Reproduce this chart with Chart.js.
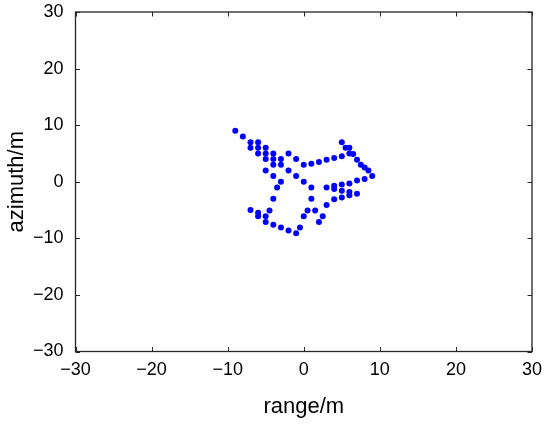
<!DOCTYPE html>
<html>
<head>
<meta charset="utf-8">
<script src="https://cdn.jsdelivr.net/npm/chart.js@4"></script>
<style>
html,body{margin:0;padding:0;background:#fff;}
#wrap{width:550px;height:426px;position:relative;}
</style>
</head>
<body>
<div id="wrap"><canvas id="c" width="550" height="426"></canvas></div>
<script>
const rangeM = [-9,-8,-7,-6,-7,-6,-5,-6,-5,-4,-2,-5,-4,-3,-1,-4,-3,0,1,2,3,4,5,5,5.5,6,6,6.5,7,7.5,8,8.5,9,-5,-2,-4,-1,-3,0,-3.5,1,3,4,4,5,5,6,7,8,6,6,7,5,4,-4,1,3,-7,-6,-6,-5,-4.5,-5,-4,-3,-2,-1,-0.5,0,0.5,1.5,2.5,2];
const azimuthM = [9,8,7,7,6,6,6,5,5,5,5,4,4,4,4,3,3,3,3.2,3.5,3.9,4.2,4.5,7,6,6,5,4.9,3.9,3,2.5,2,1,2,2,1,1,0,0,-1,-1,-1,-0.7,-1.3,-0.5,-1.6,-0.3,0.2,0.5,-1.8,-2.4,-2.1,-2.8,-3.1,-3,-3,-4.1,-5,-5.5,-6.1,-6.1,-5.1,-7.1,-7.6,-8.1,-8.6,-9.1,-8.1,-6.1,-5.1,-5.1,-6.1,-7.1];
const tickValues = [-30,-20,-10,0,10,20,30];
const xTitle = 'range/m';
const yTitle = 'azimuth/m';

const pts = rangeM.map((x,i)=>({x:x,y:azimuthM[i]}));
const axisColor = '#262626';
const fam = '"Liberation Sans", Arial, Helvetica, sans-serif';
const fmt = v => String(v).replace('-', '\u2212');

const boxPlugin = {
  id:'box',
  afterDraw(chart){
    const {ctx, chartArea:a, scales:{x,y}} = chart;
    ctx.save();
    ctx.strokeStyle = axisColor;
    ctx.lineWidth = 1.3;
    ctx.strokeRect(a.left, a.top, a.right-a.left, a.bottom-a.top);
    const L = 4.5;
    ctx.lineWidth = 1;
    ctx.beginPath();
    tickValues.forEach(v=>{
      const px = Math.round(x.getPixelForValue(v))+0.5;
      ctx.moveTo(px,a.bottom); ctx.lineTo(px,a.bottom-L);
      ctx.moveTo(px,a.top); ctx.lineTo(px,a.top+L);
      const py = Math.round(y.getPixelForValue(v))+0.5;
      ctx.moveTo(a.left,py); ctx.lineTo(a.left+L,py);
      ctx.moveTo(a.right,py); ctx.lineTo(a.right-L,py);
    });
    ctx.stroke();
    ctx.restore();
  }
};

new Chart(document.getElementById('c'), {
  type:'scatter',
  data:{datasets:[{data:pts, backgroundColor:'#0000FF', borderColor:'#0000FF', borderWidth:0, pointRadius:3, pointHoverRadius:3}]},
  options:{
    responsive:false,
    animation:false,
    events:[],
    layout:{padding:{left:0,right:16,top:0,bottom:0}},
    plugins:{legend:{display:false}, tooltip:{enabled:false}},
    scales:{
      x:{
        type:'linear', min:-30, max:30,
        afterBuildTicks(s){ s.ticks = tickValues.map(v=>({value:v})); },
        afterFit(s){ s.height = 74.5; },
        grid:{display:false, drawTicks:false},
        border:{display:false},
        ticks:{padding:8, color:'#000', font:{family:fam, size:18}, callback:fmt, maxRotation:0},
        title:{display:true, text:xTitle, color:'#000', font:{family:fam, size:22}, padding:{top:0,bottom:6}}
      },
      y:{
        type:'linear', min:-30, max:30,
        afterBuildTicks(s){ s.ticks = tickValues.map(v=>({value:v})); },
        afterFit(s){ s.width = 75.5; s.paddingTop = 12; s.paddingBottom = 0; },
        grid:{display:false, drawTicks:false},
        border:{display:false},
        ticks:{padding:12, color:'#000', font:{family:fam, size:18}, callback:fmt},
        title:{display:true, text:yTitle, color:'#000', font:{family:fam, size:22}, padding:{top:4,bottom:0}}
      }
    }
  },
  plugins:[boxPlugin]
});
</script>
</body>
</html>
